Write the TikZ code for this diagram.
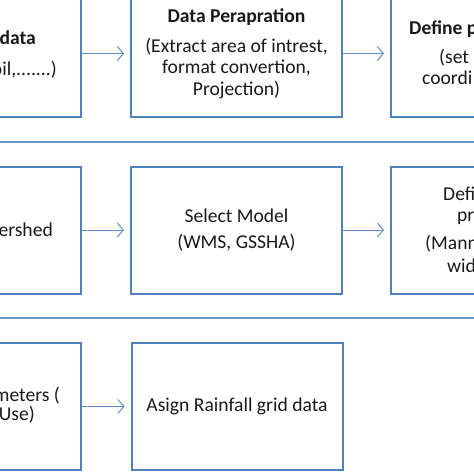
\documentclass[tikz,border=0pt]{standalone}
\usepackage{fontspec}
\setmainfont{Carlito}
\usetikzlibrary{arrows.meta}
\definecolor{boxblue}{RGB}{79,129,189}
\definecolor{txtgray}{RGB}{25,25,25}

\begin{document}
\begin{tikzpicture}[x=1pt,y=-1pt,
    box/.style={draw=boxblue,line width=2pt,minimum width=211pt,minimum height=127pt,
      inner sep=0pt,align=center,text=txtgray,font=\fontsize{19.6}{21.5}\selectfont},
    txt/.style={text=txtgray,inner sep=0pt,font=\fontsize{19.6}{21.5}\selectfont},
    flow/.style={draw=boxblue!90,line width=1pt,-{Straight Barb[length=6pt,width=14pt]},shorten >=6pt},
    sep/.style={draw=boxblue!85,line width=1.5pt}]
  \useasboundingbox (0,0) rectangle (474,474);
  \clip (0,0) rectangle (474,474);
  % first row
  \node[box] (rawdata) at (-24.5,53.5) {};
  \node[box] (dataprep) at (236.5,53.5) {\textbf{Data Perapration}\\[8.5pt]
    (Extract area of intrest,\\ format convertion,\\ Projection)};
  \node[box] (defproj) at (496.5,53.5) {};
  \node[txt,anchor=base east] (rawtitle) at (36,44) {\bfseries data};
  \node[txt,anchor=base east] (rawlist) at (57,75) {oil,.......)};
  \node[txt,anchor=base west] (projtitle) at (409,34) {\bfseries Define p};
  \node[txt,anchor=base west] (projset) at (439,63) {(set};
  \node[txt,anchor=base west] (projcoord) at (422,84) {coordi};
  \draw[flow] (rawdata) -- (dataprep);
  \draw[flow] (dataprep) -- (defproj);
  \coordinate (sepA) at (0,142);
  \coordinate (sepB) at (474,142);
  \draw[sep] (sepA) -- (sepB);
  % second row
  \node[box] (watershed) at (-24.5,230) {};
  \node[box] (selmodel) at (236.5,230) {Select Model\\[4pt] (WMS, GSSHA)};
  \node[box] (defparam) at (496.5,230) {};
  \node[txt,anchor=base east] (wshtext) at (53,236) {ershed};
  \node[txt,anchor=base west] (parA) at (443,200) {Defi};
  \node[txt,anchor=base west] (parB) at (457,221) {pr};
  \node[txt,anchor=base west] (parC) at (425,249) {(Mann};
  \node[txt,anchor=base west] (parD) at (447,272) {wid};
  \draw[flow] (watershed) -- (selmodel);
  \draw[flow] (selmodel) -- (defparam);
  \coordinate (sepC) at (0,318);
  \coordinate (sepD) at (474,318);
  \draw[sep] (sepC) -- (sepD);
  % third row
  \node[box] (landuse) at (-24.5,406.5) {};
  \node[box] (rainfall) at (237,406.5) {Asign Rainfall grid data};
  \node[txt,anchor=base east] (luA) at (60,401) {meters (};
  \node[txt,anchor=base east] (luB) at (35,420) {Use)};
  \draw[flow] (landuse) -- (rainfall);
\end{tikzpicture}
\end{document}
